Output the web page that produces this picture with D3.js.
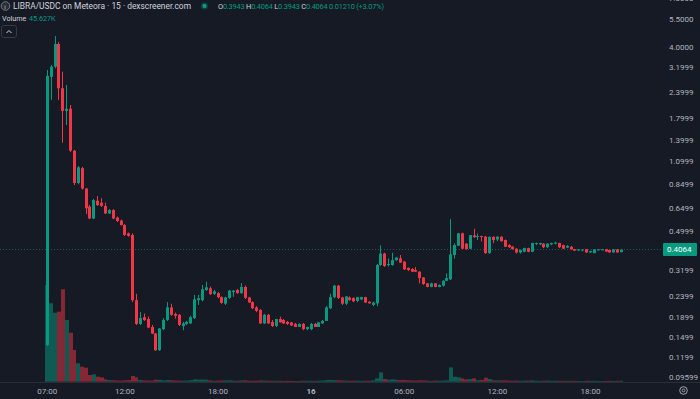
<!DOCTYPE html>
<html><head><meta charset="utf-8">
<script src="https://cdn.jsdelivr.net/npm/d3@7"></script>
<style>html,body{margin:0;padding:0;background:#161a25;overflow:hidden}</style>
</head><body><svg id="c" width="700" height="399"></svg>
<script>
// ---------- DATA (15-minute candles, LIBRA/USDC) ----------
const startTime = new Date(2025, 1, 15, 7, 0);
const intervalMinutes = 15;

const opens = [
0.138, 2.87, 3.22, 4.16, 2.52, 1.95, 2.00, 1.243, 0.862, 1.02,
0.81, 0.66, 0.577, 0.706, 0.69, 0.665, 0.611, 0.635, 0.584, 0.564,
0.536, 0.488, 0.479, 0.229, 0.175, 0.189, 0.185, 0.169, 0.157, 0.130,
0.165, 0.183, 0.211, 0.196, 0.194, 0.171, 0.175, 0.176, 0.187, 0.229,
0.229, 0.257, 0.262, 0.246, 0.248, 0.237, 0.220, 0.235, 0.251, 0.257,
0.248, 0.266, 0.236, 0.224, 0.211, 0.205, 0.176, 0.194, 0.179, 0.171,
0.185, 0.183, 0.179, 0.178, 0.175, 0.169, 0.175, 0.165, 0.165, 0.175,
0.169, 0.176, 0.181, 0.209, 0.237, 0.270, 0.236, 0.220, 0.236, 0.235,
0.227, 0.231, 0.237, 0.225, 0.217, 0.221, 0.341, 0.388, 0.341, 0.341,
0.360, 0.367, 0.354, 0.330, 0.326, 0.322, 0.316, 0.296, 0.277, 0.266,
0.277, 0.266, 0.270, 0.285, 0.290, 0.382, 0.424, 0.488, 0.434, 0.410,
0.477, 0.469, 0.473, 0.470, 0.390, 0.469, 0.455, 0.470, 0.452, 0.427,
0.420, 0.410, 0.393, 0.396, 0.413, 0.396, 0.434, 0.431, 0.434, 0.417,
0.431, 0.436, 0.437, 0.427, 0.415, 0.419, 0.408, 0.402, 0.402, 0.408,
0.393, 0.390, 0.404, 0.405, 0.408, 0.404, 0.393, 0.407, 0.3943
];
const highs = [
3.10, 3.28, 4.55, 4.25, 3.04, 2.615, 2.085, 1.253, 1.045, 1.035,
0.815, 0.672, 0.719, 0.744, 0.726, 0.69, 0.642, 0.642, 0.59, 0.57,
0.542, 0.492, 0.488, 0.246, 0.200, 0.197, 0.190, 0.173, 0.158, 0.167,
0.187, 0.224, 0.220, 0.199, 0.196, 0.179, 0.181, 0.192, 0.243, 0.243,
0.272, 0.282, 0.267, 0.257, 0.251, 0.239, 0.238, 0.257, 0.257, 0.260,
0.278, 0.270, 0.238, 0.226, 0.214, 0.207, 0.196, 0.196, 0.183, 0.185,
0.190, 0.185, 0.181, 0.179, 0.177, 0.176, 0.177, 0.170, 0.177, 0.177,
0.179, 0.183, 0.214, 0.246, 0.272, 0.272, 0.238, 0.240, 0.239, 0.236,
0.238, 0.238, 0.238, 0.226, 0.225, 0.345, 0.426, 0.392, 0.367, 0.392,
0.373, 0.382, 0.357, 0.332, 0.329, 0.333, 0.318, 0.297, 0.278, 0.279,
0.278, 0.274, 0.287, 0.310, 0.573, 0.436, 0.490, 0.492, 0.437, 0.479,
0.514, 0.487, 0.475, 0.474, 0.471, 0.472, 0.472, 0.472, 0.455, 0.432,
0.422, 0.412, 0.406, 0.415, 0.415, 0.438, 0.439, 0.439, 0.436, 0.436,
0.439, 0.444, 0.439, 0.429, 0.427, 0.423, 0.409, 0.408, 0.408, 0.409,
0.401, 0.408, 0.408, 0.409, 0.409, 0.406, 0.408, 0.408, 0.4064
];
const lows = [
0.136, 2.21, 3.16, 2.21, 1.36, 1.663, 1.226, 0.843, 0.85, 0.80,
0.606, 0.573, 0.573, 0.665, 0.658, 0.607, 0.607, 0.573, 0.555, 0.533,
0.474, 0.469, 0.224, 0.173, 0.173, 0.181, 0.167, 0.156, 0.129, 0.129,
0.163, 0.181, 0.192, 0.186, 0.171, 0.163, 0.173, 0.175, 0.185, 0.217,
0.226, 0.254, 0.243, 0.243, 0.234, 0.220, 0.217, 0.232, 0.238, 0.246,
0.246, 0.232, 0.222, 0.207, 0.200, 0.175, 0.175, 0.175, 0.169, 0.169,
0.178, 0.175, 0.173, 0.171, 0.169, 0.169, 0.163, 0.163, 0.163, 0.169,
0.169, 0.175, 0.181, 0.207, 0.234, 0.232, 0.217, 0.217, 0.228, 0.224,
0.224, 0.229, 0.222, 0.220, 0.214, 0.214, 0.338, 0.334, 0.335, 0.338,
0.358, 0.349, 0.322, 0.319, 0.315, 0.315, 0.277, 0.272, 0.265, 0.265,
0.265, 0.265, 0.267, 0.284, 0.288, 0.367, 0.423, 0.408, 0.406, 0.408,
0.464, 0.452, 0.445, 0.387, 0.387, 0.436, 0.446, 0.445, 0.418, 0.413,
0.406, 0.388, 0.388, 0.394, 0.394, 0.394, 0.427, 0.427, 0.413, 0.413,
0.427, 0.431, 0.413, 0.409, 0.413, 0.405, 0.400, 0.400, 0.398, 0.391,
0.392, 0.391, 0.402, 0.404, 0.394, 0.392, 0.392, 0.392, 0.3943
];
const closes = [
2.90, 3.22, 4.16, 2.52, 1.95, 2.00, 1.243, 0.862, 1.03, 0.81,
0.648, 0.577, 0.711, 0.672, 0.665, 0.611, 0.635, 0.577, 0.561, 0.536,
0.479, 0.474, 0.229, 0.175, 0.187, 0.183, 0.168, 0.157, 0.130, 0.166,
0.183, 0.211, 0.194, 0.192, 0.173, 0.176, 0.179, 0.189, 0.231, 0.234,
0.259, 0.265, 0.245, 0.253, 0.237, 0.222, 0.236, 0.255, 0.255, 0.248,
0.266, 0.235, 0.223, 0.209, 0.203, 0.176, 0.194, 0.176, 0.171, 0.185,
0.178, 0.176, 0.175, 0.172, 0.169, 0.175, 0.165, 0.169, 0.175, 0.169,
0.178, 0.181, 0.211, 0.237, 0.270, 0.235, 0.220, 0.239, 0.229, 0.226,
0.237, 0.237, 0.223, 0.221, 0.223, 0.341, 0.388, 0.337, 0.345, 0.360,
0.371, 0.350, 0.325, 0.322, 0.316, 0.316, 0.294, 0.275, 0.266, 0.277,
0.266, 0.272, 0.285, 0.294, 0.384, 0.427, 0.488, 0.410, 0.408, 0.478,
0.467, 0.473, 0.469, 0.390, 0.469, 0.452, 0.470, 0.446, 0.419, 0.417,
0.408, 0.393, 0.404, 0.413, 0.396, 0.437, 0.437, 0.437, 0.417, 0.434,
0.437, 0.439, 0.417, 0.410, 0.423, 0.407, 0.401, 0.407, 0.407, 0.393,
0.399, 0.407, 0.407, 0.407, 0.397, 0.393, 0.407, 0.393, 0.4064
];
// volume in thousands
const volumes = [
4395, 3564, 3136, 3182, 4200, 2804, 2227, 1441, 836, 682,
636, 305, 336, 227, 195, 105, 77, 65, 55, 50,
60, 70, 260, 195, 80, 60, 55, 50, 90, 85,
60, 75, 65, 55, 50, 45, 50, 70, 105, 95,
100, 90, 60, 45, 50, 55, 60, 65, 45, 40,
55, 60, 45, 40, 45, 60, 50, 45, 40, 45,
40, 35, 40, 35, 30, 35, 45, 40, 40, 35,
45, 50, 75, 80, 70, 65, 55, 50, 40, 45,
50, 40, 45, 40, 60, 150, 423, 120, 90, 105,
85, 70, 75, 65, 55, 50, 60, 55, 45, 40,
50, 45, 50, 60, 650, 227, 195, 150, 105, 120,
150, 70, 80, 180, 120, 65, 60, 55, 60, 50,
45, 50, 40, 45, 50, 60, 45, 40, 45, 50,
40, 45, 40, 35, 40, 35, 40, 35, 30, 40,
35, 40, 35, 30, 35, 40, 35, 40, 45.627
];

const priceTicks = [7.0, 5.5, 4.0, 3.1999, 2.3999, 1.7999, 1.3999, 1.0999, 0.8499, 0.6499, 0.4999, 0.3199, 0.2399, 0.1899, 0.1499, 0.1199, 0.09599];
const priceTickLabels = ["7.0000","5.5000","4.0000","3.1999","2.3999","1.7999","1.3999","1.0999","0.8499","0.6499","0.4999","0.3199","0.2399","0.1899","0.1499","0.1199","0.09599"];
const timeTicks = [new Date(2025,1,15,7), new Date(2025,1,15,12), new Date(2025,1,15,18), new Date(2025,1,16,0), new Date(2025,1,16,6), new Date(2025,1,16,12), new Date(2025,1,16,18)];
const timeTickLabels = ["07:00","12:00","18:00","16","06:00","12:00","18:00"];
const lastPrice = 0.4064;

// ---------- RENDER ----------
const W = 700, H = 399;
const BG = "#161a25", UP = "#089981", DOWN = "#f23645", TXT = "#d1d4dc", AX = "#b2b5be";
const FONT = "Roboto, 'Noto Sans', sans-serif";
const svg = d3.select("#c");
svg.append("rect").attr("width", W).attr("height", H).attr("fill", BG);

const candles = opens.map((o, i) => ({
  t: new Date(startTime.getTime() + i * intervalMinutes * 60000),
  o, h: Math.max(highs[i], o, closes[i]), l: Math.min(lows[i], o, closes[i]), c: closes[i], v: volumes[i]
}));

const x = d3.scaleTime().domain([candles[0].t, candles[candles.length - 1].t]).range([47.3, 47.3 + (candles.length - 1) * 3.88]);
const y = d3.scaleLog().domain([0.09599, 5.5]).range([377, 19.3]);
const yv = d3.scaleLinear().domain([0, 5000]).range([381.7, 271.7]);

const plot = svg.append("g");
// volume
plot.append("g").selectAll("rect").data(candles).join("rect")
  .attr("x", d => Math.round(x(d.t) - 1.94))
  .attr("width", d => Math.round(x(d.t) + 1.94) - Math.round(x(d.t) - 1.94))
  .attr("y", d => yv(d.v))
  .attr("height", d => Math.max(0.6, yv(0) - yv(d.v)))
  .attr("fill", d => d.c >= d.o ? UP : DOWN)
  .attr("fill-opacity", 0.5);

// price line
plot.append("line").attr("x1", 0).attr("x2", 663)
  .attr("y1", Math.round(y(lastPrice)) + 0.5).attr("y2", Math.round(y(lastPrice)) + 0.5)
  .attr("stroke", UP).attr("stroke-opacity", 0.55).attr("stroke-dasharray", "1,2");

// wicks
plot.append("g").selectAll("line").data(candles).join("line")
  .attr("x1", d => Math.round(x(d.t) - 1.5) + 1.5)
  .attr("x2", d => Math.round(x(d.t) - 1.5) + 1.5)
  .attr("y1", d => y(d.h)).attr("y2", d => y(d.l))
  .attr("stroke", d => d.c >= d.o ? UP : DOWN).attr("stroke-width", 1);
// bodies
plot.append("g").selectAll("rect").data(candles).join("rect")
  .attr("x", d => Math.round(x(d.t) - 1.5))
  .attr("width", 3)
  .attr("y", d => y(Math.max(d.o, d.c)))
  .attr("height", d => Math.max(1, y(Math.min(d.o, d.c)) - y(Math.max(d.o, d.c))))
  .attr("fill", d => d.c >= d.o ? UP : DOWN);

// price axis labels
svg.append("g").selectAll("text").data(priceTicks).join("text")
  .attr("x", 669).attr("y", d => y(d)).attr("dy", "0.35em")
  .attr("font-family", FONT).attr("font-size", 8).attr("fill", AX)
  .text((d, i) => priceTickLabels[i]);

// last price label
const lp = y(lastPrice);
svg.append("rect").attr("x", 663).attr("y", lp - 6.5).attr("width", 34).attr("height", 13).attr("rx", 1).attr("fill", UP);
svg.append("text").attr("x", 667).attr("y", lp).attr("dy", "0.35em")
  .attr("font-family", FONT).attr("font-size", 8).attr("fill", "#ffffff").text(lastPrice.toFixed(4));

// time axis
svg.append("line").attr("x1", 0).attr("x2", W).attr("y1", 382.5).attr("y2", 382.5).attr("stroke", "#2a2e39");
svg.append("g").selectAll("text").data(timeTicks).join("text")
  .attr("x", d => x(d)).attr("y", 391).attr("dy", "0.35em").attr("text-anchor", "middle")
  .attr("font-family", FONT).attr("font-size", 8).attr("fill", AX)
  .attr("font-weight", (d, i) => timeTickLabels[i].length <= 2 ? "bold" : "normal")
  .text((d, i) => timeTickLabels[i]);

// settings icon
svg.append("circle").attr("cx", 683.5).attr("cy", 390.5).attr("r", 3.8).attr("fill", "none").attr("stroke", AX).attr("stroke-width", 0.9);
svg.append("circle").attr("cx", 683.5).attr("cy", 390.5).attr("r", 1.4).attr("fill", "none").attr("stroke", AX).attr("stroke-width", 0.8);

// header
svg.append("circle").attr("cx", 5.5).attr("cy", 6).attr("r", 4.3).attr("fill", "#2a2e39").attr("stroke", "#8a8d96").attr("stroke-width", 0.8);
svg.append("text").attr("x", 4.2).attr("y", 8.6).attr("font-family", FONT).attr("font-size", 6).attr("fill", "#c8cad0").text("i");
svg.append("text").attr("x", 13).attr("y", 9.2).attr("font-family", FONT).attr("font-size", 8.5).attr("fill", TXT)
  .attr("textLength", 178).attr("lengthAdjust", "spacingAndGlyphs")
  .text("LIBRA/USDC on Meteora · 15 · dexscreener.com");
svg.append("circle").attr("cx", 204.5).attr("cy", 6).attr("r", 3.8).attr("fill", UP).attr("fill-opacity", 0.25);
svg.append("circle").attr("cx", 204.5).attr("cy", 6).attr("r", 2.2).attr("fill", UP);
const last = candles[candles.length - 1];
const chg = last.c - last.o;
const hdr = svg.append("text").attr("x", 218).attr("y", 9.2).attr("font-family", FONT).attr("font-size", 7.4)
  .attr("textLength", 166).attr("lengthAdjust", "spacing");
[["O", last.o.toFixed(4)], ["H", last.h.toFixed(4)], ["L", last.l.toFixed(4)], ["C", last.c.toFixed(4)]].forEach(([k, v], j) => {
  hdr.append("tspan").attr("fill", TXT).text((j ? " " : "") + k);
  hdr.append("tspan").attr("fill", UP).text(v);
});
hdr.append("tspan").attr("fill", UP).text(" " + chg.toFixed(5) + " (+" + (chg / last.o * 100).toFixed(2) + "%)");

svg.append("text").attr("x", 2).attr("y", 21).attr("font-family", FONT).attr("font-size", 7.2).attr("fill", TXT).text("Volume");
svg.append("text").attr("x", 29).attr("y", 21).attr("font-family", FONT).attr("font-size", 7.2).attr("fill", UP).text(last.v.toFixed(3) + "K");

// collapse button
svg.append("rect").attr("x", 1.5).attr("y", 25.5).attr("width", 15).attr("height", 12).attr("rx", 2).attr("fill", "none").attr("stroke", "#363a45");
svg.append("path").attr("d", "M6.5,33 L9,30.5 L11.5,33").attr("fill", "none").attr("stroke", TXT).attr("stroke-width", 1);
</script></body></html>
